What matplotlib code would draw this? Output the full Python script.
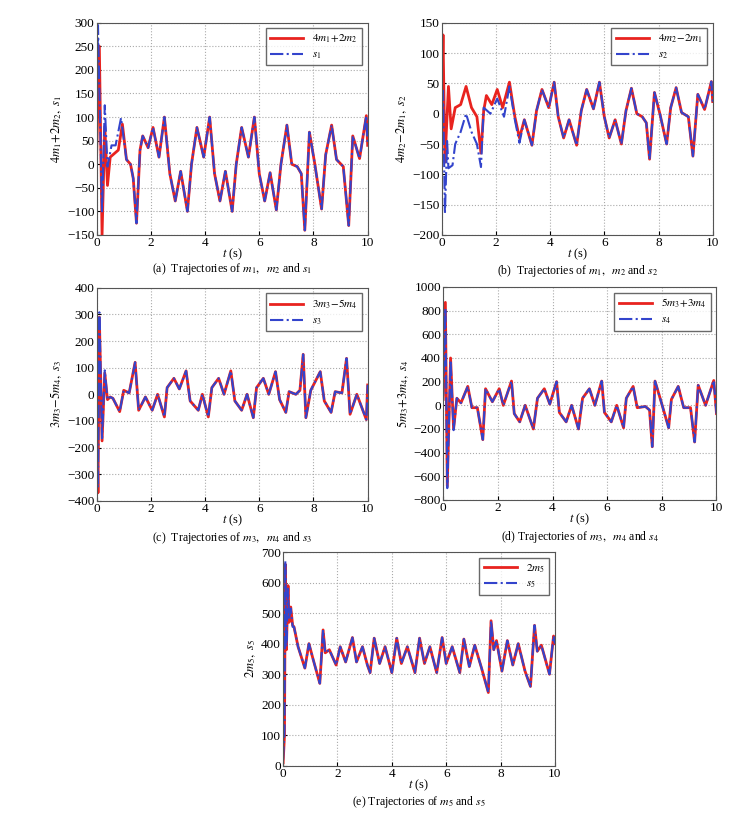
import matplotlib
matplotlib.use("Agg")
import matplotlib.pyplot as plt

plt.rcParams['font.family'] = 'Liberation Serif'
plt.rcParams['mathtext.fontset'] = 'stix'
plt.rcParams['font.size'] = 9

# ---- panel (a) ----
a_t_early_red = [0, 0.1, 0.2, 0.3, 0.4, 0.5, 0.6, 0.8, 0.95, 1.1]
a_y_early_red = [20, 250, -150, 80, -45, 15, 20, 30, 85, 10]
a_t_early_blue = [0, 0.05, 0.2, 0.3, 0.4, 0.45, 0.55, 0.7, 0.9, 1.1]
a_y_early_blue = [100, 295, -100, 125, -5, 10, 40, 40, 98, 10]
a_t_late = [1.25, 1.35, 1.47, 1.6, 1.7, 1.9, 2.08, 2.3, 2.5, 2.7, 2.9, 3.1, 3.35, 3.5, 3.7, 3.95,
            4.17, 4.35, 4.55, 4.75, 5.0, 5.15, 5.35, 5.6, 5.82, 6.0, 6.2, 6.4, 6.63, 6.8, 7.02, 7.2,
            7.4, 7.55, 7.68, 7.85, 8.05, 8.3, 8.45, 8.67, 8.85, 9.1, 9.3, 9.45, 9.7, 9.95, 10]
a_y_late = [0, -30, -125, 30, 60, 35, 78, 15, 100, -20, -78, -15, -100, 0, 78, 15,
            100, -20, -78, -15, -100, 0, 78, 15, 100, -20, -78, -18, -97, 0, 83, 0,
            -5, -20, -140, 68, 0, -95, 20, 83, 10, -5, -130, 60, 12, 103, 40]

# ---- panel (b) ----
b_t_early_red = [0, 0.05, 0.12, 0.25, 0.35, 0.5, 0.7, 0.9, 1.1, 1.3, 1.45, 1.55, 1.65, 1.85, 2.05, 2.25, 2.5, 2.7, 2.87]
b_y_early_red = [10, 130, -80, 45, -25, 10, 15, 45, 10, -5, -65, 5, 30, 15, 40, 10, 52, -5, -40]
b_t_early_blue = [0, 0.05, 0.12, 0.2, 0.25, 0.4, 0.5, 0.7, 0.9, 1.1, 1.3, 1.45, 1.55, 1.8, 2.05, 2.3, 2.5, 2.7, 2.87]
b_y_early_blue = [-40, 38, -165, -45, -90, -85, -50, -30, 0, -30, -50, -88, 10, 0, 25, -5, 45, -10, -48]
b_t_late = [3.05, 3.33, 3.5, 3.7, 3.95, 4.15, 4.3, 4.5, 4.7, 4.98, 5.15, 5.35, 5.6, 5.82, 6.0, 6.18,
            6.4, 6.63, 6.8, 7.0, 7.2, 7.4, 7.55, 7.67, 7.85, 8.05, 8.3, 8.45, 8.65, 8.85, 9.1, 9.27,
            9.45, 9.7, 9.95, 10]
b_y_late = [-10, -52, 5, 40, 10, 52, -5, -40, -10, -52, 5, 40, 8, 52, -5, -40,
            -10, -50, 5, 42, 0, -5, -15, -75, 35, 0, -50, 10, 43, 2, -5, -70,
            32, 7, 53, 20]

# ---- panel (c) ----
c_t_early_red = [0, 0.05, 0.1, 0.2, 0.3, 0.4]
c_y_early_red = [-50, -370, 290, -175, 80, -20]
c_t_early_blue = [0, 0.05, 0.1, 0.2, 0.3, 0.4]
c_y_early_blue = [-30, -350, 308, -165, 90, -20]
c_t_late = [0.5, 0.6, 0.85, 1.0, 1.2, 1.42, 1.55, 1.8, 2.05, 2.25, 2.5, 2.6, 2.85, 3.05, 3.3, 3.45,
            3.75, 3.9, 4.12, 4.25, 4.5, 4.7, 4.95, 5.1, 5.35, 5.55, 5.78, 5.9, 6.15, 6.35, 6.6, 6.75,
            6.98, 7.1, 7.35, 7.5, 7.62, 7.72, 7.9, 8.25, 8.4, 8.65, 8.8, 9.05, 9.22, 9.35, 9.6, 9.95, 10]
c_y_late = [-10, -15, -65, 15, 5, 120, -60, -10, -60, 0, -85, 25, 60, 20, 88, -25,
            -60, 0, -85, 25, 60, 0, 88, -25, -60, 0, -88, 25, 60, 0, 85, -20,
            -68, 10, 0, 15, 150, -88, 15, 85, -25, -68, 10, 5, 135, -75, 0, -95, 35]

# ---- panel (d) ----
d_t_early_red = [0, 0.08, 0.15, 0.27, 0.38]
d_y_early_red = [50, 870, -680, 400, -200]
d_t_early_blue = [0, 0.08, 0.15, 0.27, 0.38]
d_y_early_blue = [80, 820, -700, 380, -210]
d_t_late = [0.5, 0.65, 0.9, 1.05, 1.25, 1.45, 1.55, 1.8, 2.05, 2.2, 2.5, 2.6, 2.8, 3.0, 3.3, 3.45,
            3.7, 3.9, 4.15, 4.25, 4.5, 4.7, 4.95, 5.1, 5.35, 5.55, 5.8, 5.9, 6.15, 6.35, 6.6, 6.7,
            6.95, 7.1, 7.4, 7.55, 7.65, 7.75, 7.95, 8.25, 8.35, 8.6, 8.8, 9.05, 9.2, 9.33, 9.6, 9.9, 10]
d_y_late = [60, 20, 160, -20, -20, -290, 140, 30, 140, 0, 205, -70, -140, 0, -200, 60,
            140, 10, 200, -60, -140, 0, -200, 60, 140, 0, 205, -60, -140, 0, -190, 60,
            160, -20, -10, -40, -350, 205, 50, -190, 50, 160, -20, -20, -310, 170, 0, 210, -70]

# ---- panel (e) ----
e_t = [0, 0.05, 0.08, 0.12, 0.18, 0.22, 0.28, 0.35, 0.4, 0.55, 0.8, 0.95, 1.1, 1.35, 1.47, 1.55,
       1.7, 1.95, 2.1, 2.3, 2.55, 2.7, 2.92, 3.1, 3.2, 3.35, 3.55, 3.75, 4.0, 4.18, 4.35, 4.57,
       4.85, 5.02, 5.2, 5.4, 5.65, 5.85, 6.0, 6.22, 6.5, 6.65, 6.85, 7.05, 7.3, 7.55, 7.65, 7.75,
       7.85, 8.05, 8.25, 8.45, 8.65, 8.9, 9.1, 9.25, 9.35, 9.5, 9.8, 9.95, 10]
e_y_red = [10, 100, 660, 380, 590, 470, 520, 460, 455, 390, 320, 400, 350, 270, 445, 370,
           380, 330, 390, 340, 420, 340, 390, 330, 305, 418, 335, 390, 305, 418, 335, 390,
           305, 418, 335, 390, 305, 420, 335, 390, 305, 415, 325, 395, 320, 240, 475, 380,
           410, 310, 410, 330, 400, 310, 260, 460, 375, 395, 300, 425, 400]
e_y_blue = [20, 120, 670, 390, 580, 480, 515, 455, 455, 390, 320, 400, 350, 270, 445, 370,
            380, 330, 390, 340, 420, 340, 390, 330, 305, 418, 335, 390, 305, 418, 335, 390,
            305, 418, 335, 390, 305, 420, 335, 390, 305, 415, 325, 395, 320, 240, 475, 380,
            410, 310, 410, 330, 400, 310, 260, 460, 375, 395, 300, 425, 400]

fig = plt.figure(figsize=(7.55, 8.13), dpi=100)

panels = [
    ([0.128, 0.711, 0.359, 0.261], a_t_early_red + a_t_late, a_y_early_red + a_y_late,
     a_t_early_blue + a_t_late, a_y_early_blue + a_y_late, (-150, 300), 50,
     r'$4m_1\!+\!2m_2$', r'$s_1$', r'$4m_1\!+\!2m_2,\ s_1$',
     r'(a)  Trajectories of $m_1,\ \ m_2$ and $s_1$', 269),
    ([0.585, 0.711, 0.359, 0.261], b_t_early_red + b_t_late, b_y_early_red + b_y_late,
     b_t_early_blue + b_t_late, b_y_early_blue + b_y_late, (-200, 150), 50,
     r'$4m_2\!-\!2m_1$', r'$s_2$', r'$4m_2\!-\!2m_1,\ s_2$',
     r'(b)  Trajectories of $m_1,\ \ m_2$ and $s_2$', 271),
    ([0.128, 0.384, 0.359, 0.262], c_t_early_red + c_t_late, c_y_early_red + c_y_late,
     c_t_early_blue + c_t_late, c_y_early_blue + c_y_late, (-400, 400), 100,
     r'$3m_3\!-\!5m_4$', r'$s_3$', r'$3m_3\!-\!5m_4,\ s_3$',
     r'(c)  Trajectories of $m_3,\ \ m_4$ and $s_3$', 538),
    ([0.587, 0.385, 0.362, 0.262], d_t_early_red + d_t_late, d_y_early_red + d_y_late,
     d_t_early_blue + d_t_late, d_y_early_blue + d_y_late, (-800, 1000), 200,
     r'$5m_3\!+\!3m_4$', r'$s_4$', r'$5m_3\!+\!3m_4,\ s_4$',
     r'(d) Trajectories of $m_3,\ \ m_4$ and $s_4$', 537),
    ([0.375, 0.058, 0.360, 0.263], e_t, e_y_red, e_t, e_y_blue, (0, 700), 100,
     r'$2m_5$', r'$s_5$', r'$2m_5,\ s_5$',
     r'(e) Trajectories of $m_5$ and $s_5$', 802),
]

for rect, tr, yr, tb, yb, ylim, ystep, lr, lb, ylab, cap, capy in panels:
    ax = fig.add_axes(rect)
    ax.plot(tr, yr, color='#e8231f', lw=2.0, label=lr)
    ax.plot(tb, yb, color='#3344cc', lw=1.5, ls='-.', label=lb)
    ax.set_xlim(0, 10)
    ax.set_ylim(*ylim)
    ax.set_xticks(range(0, 11, 2))
    ax.set_yticks(range(ylim[0], ylim[1] + 1, ystep))
    ax.grid(True, ls=':', color='#aaaaaa', lw=0.8)
    ax.tick_params(direction='in', labelsize=9.5, length=3, pad=1.5)
    ax.set_ylabel(ylab, fontsize=9, labelpad=2)
    ax.set_xlabel(r'$t$ (s)', fontsize=9, labelpad=-1.5)
    ax.legend(loc='upper right', fontsize=8, frameon=True, fancybox=False,
              edgecolor='#444444', handlelength=3, borderpad=0.4, labelspacing=0.4)
    for s in ax.spines.values():
        s.set_color('#555555')
    fig.text(rect[0] + rect[2] / 2, 1 - capy / 813, cap, ha='center', va='center', fontsize=8.5)

fig.savefig('out.png', dpi=100)
